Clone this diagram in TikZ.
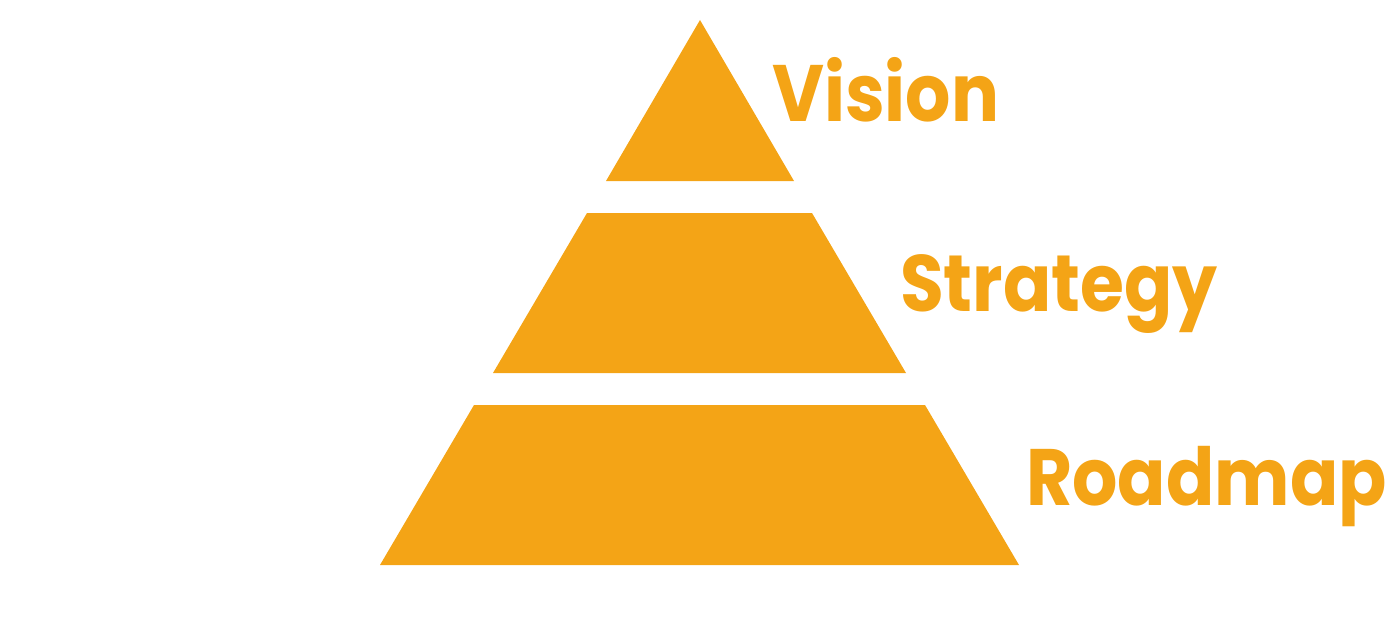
\documentclass[tikz,border=0pt]{standalone}
\usepackage{fontspec}
\newfontfamily\popfont{Poppins}[FakeStretch=0.89]
\definecolor{pyr}{HTML}{F4A416}
\begin{document}
\begin{tikzpicture}[x=1pt,y=-1pt,
  tier/.style={fill=pyr,draw=none},
  lbl/.style={anchor=base west,inner sep=0pt,text=pyr,font=\popfont\bfseries\fontsize{80}{80}\selectfont}]
\useasboundingbox (0,0) rectangle (1400,618);
\fill[tier] (700,20) -- (794,181) -- (606,181) -- cycle;
\fill[tier] (587,213) -- (812,213) -- (906,373) -- (493,373) -- cycle;
\fill[tier] (474,405) -- (925,405) -- (1019,565) -- (380,565) -- cycle;
\node[lbl] (vision) at (772,121) {Vision};
\node[lbl] (strategy) at (900,311) {Strategy};
\node[lbl] (roadmap) at (1026,505) {Roadmap};
\end{tikzpicture}
\end{document}
